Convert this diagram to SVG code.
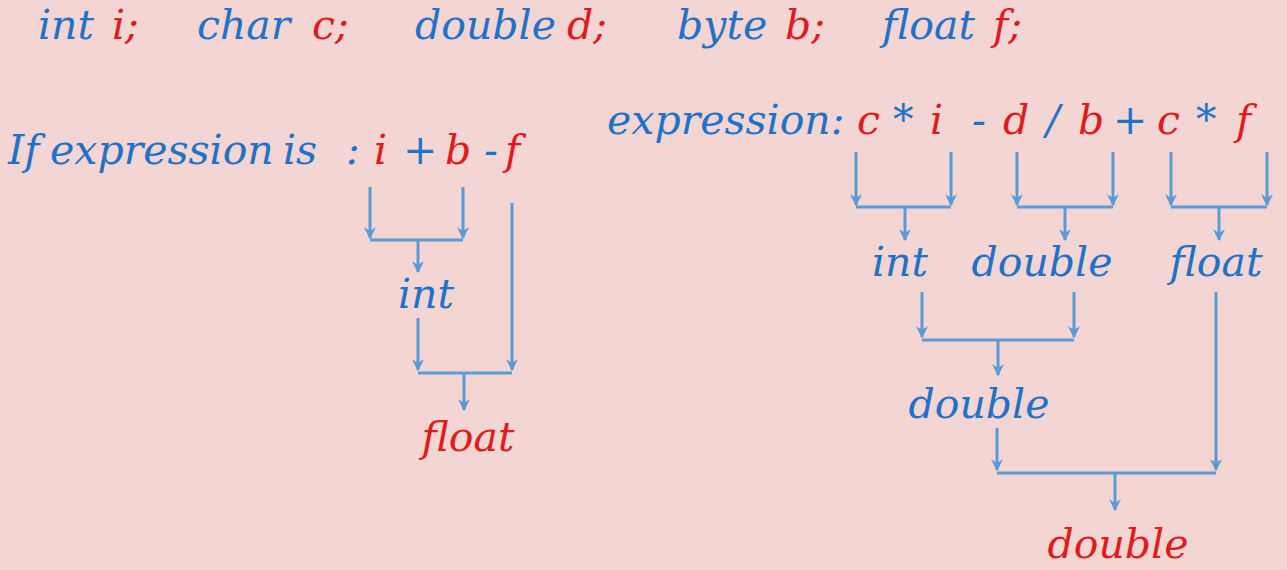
<svg xmlns="http://www.w3.org/2000/svg" width="1287" height="570" viewBox="0 0 1287 570">
<defs>
<style>
text{font-family:"DejaVu Serif","Liberation Serif",serif;font-style:italic;font-size:41px}
.b{fill:#1f72c8}
.r{fill:#e01b1b}
.ln{fill:none;stroke:#5b9bd5;stroke-width:3}
</style>
<marker id="ah" viewBox="0 0 10 10" refX="9" refY="5" markerWidth="4" markerHeight="4" markerUnits="strokeWidth" orient="auto">
<path d="M0,0 L10,5 L0,10 L3,5 Z" fill="#5b9bd5"/>
</marker>
</defs>
<rect width="1287" height="570" fill="#f3d5d3"/>
<g id="declarations">
<text y="39"><tspan class="b" x="38">int</tspan><tspan class="r" x="112">i;</tspan><tspan class="b" x="197">char</tspan><tspan class="r" x="312">c;</tspan><tspan class="b" x="415">double</tspan><tspan class="r" x="567">d;</tspan><tspan class="b" x="677">byte</tspan><tspan class="r" x="785">b;</tspan><tspan class="b" x="882">float</tspan><tspan class="r" x="993">f;</tspan></text>
</g>
<g id="expr1">
<text y="164"><tspan class="b" x="8">If</tspan><tspan class="b" x="50">expression</tspan><tspan class="b" x="283">is</tspan><tspan class="b" x="346">:</tspan><tspan class="r" x="374">i</tspan><tspan class="b" x="403">+</tspan><tspan class="r" x="445">b</tspan><tspan class="b" x="484">-</tspan><tspan class="r" x="505">f</tspan></text>
</g>
<g id="expr2">
<text y="134"><tspan class="b" x="607">expression:</tspan><tspan class="r" x="857">c</tspan><tspan class="b" x="893">*</tspan><tspan class="r" x="930">i</tspan><tspan class="b" x="972">-</tspan><tspan class="r" x="1003">d</tspan><tspan class="b" x="1046">/</tspan><tspan class="r" x="1078">b</tspan><tspan class="b" x="1113">+</tspan><tspan class="r" x="1157">c</tspan><tspan class="b" x="1196">*</tspan><tspan class="r" x="1236">f</tspan></text>
</g>
<g id="left-int"><text class="b" x="426" y="308" text-anchor="middle">int</text></g>
<g id="left-float"><text class="r" x="468" y="451" text-anchor="middle">float</text></g>
<g id="right-int"><text class="b" x="900" y="276" text-anchor="middle">int</text></g>
<g id="right-double1"><text class="b" x="1042" y="276" text-anchor="middle">double</text></g>
<g id="right-float"><text class="b" x="1216" y="276" text-anchor="middle">float</text></g>
<g id="right-double2"><text class="b" x="979" y="418" text-anchor="middle">double</text></g>
<g id="right-double3"><text class="r" x="1118" y="558" text-anchor="middle">double</text></g>
<g id="connectors">
<path class="ln" d="M370,187V238" marker-end="url(#ah)"/>
<path class="ln" d="M463,187V238" marker-end="url(#ah)"/>
<path class="ln" d="M370,240H463"/>
<path class="ln" d="M418,240V272" marker-end="url(#ah)"/>
<path class="ln" d="M418,318V370" marker-end="url(#ah)"/>
<path class="ln" d="M512,203V370" marker-end="url(#ah)"/>
<path class="ln" d="M418,373H512"/>
<path class="ln" d="M464,373V410" marker-end="url(#ah)"/>
<path class="ln" d="M856,152V205" marker-end="url(#ah)"/>
<path class="ln" d="M951,152V205" marker-end="url(#ah)"/>
<path class="ln" d="M856,207H951"/>
<path class="ln" d="M905,207V240" marker-end="url(#ah)"/>
<path class="ln" d="M1017,152V205" marker-end="url(#ah)"/>
<path class="ln" d="M1113,152V205" marker-end="url(#ah)"/>
<path class="ln" d="M1017,207H1113"/>
<path class="ln" d="M1065,207V240" marker-end="url(#ah)"/>
<path class="ln" d="M1171,152V205" marker-end="url(#ah)"/>
<path class="ln" d="M1267,152V205" marker-end="url(#ah)"/>
<path class="ln" d="M1171,207H1267"/>
<path class="ln" d="M1219,207V240" marker-end="url(#ah)"/>
<path class="ln" d="M922,292V337" marker-end="url(#ah)"/>
<path class="ln" d="M1074,292V337" marker-end="url(#ah)"/>
<path class="ln" d="M922,340H1074"/>
<path class="ln" d="M998,340V375" marker-end="url(#ah)"/>
<path class="ln" d="M997,428V470" marker-end="url(#ah)"/>
<path class="ln" d="M1216,292V470" marker-end="url(#ah)"/>
<path class="ln" d="M997,473H1216"/>
<path class="ln" d="M1115,473V510" marker-end="url(#ah)"/>
</g>
</svg>
